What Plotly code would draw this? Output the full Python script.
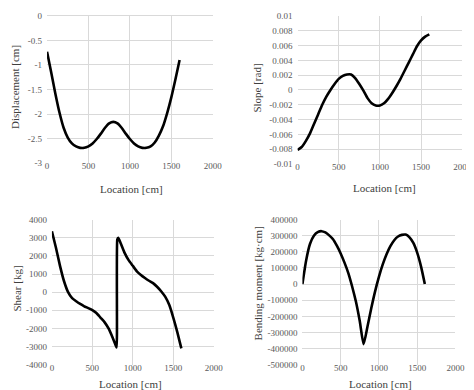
import plotly.graph_objects as go

# ---------------- data ----------------
loc = [0, 50, 100, 150, 200, 250, 300, 350, 400, 450, 500, 550, 600, 650, 700, 750, 800,
       850, 900, 950, 1000, 1050, 1100, 1150, 1200, 1250, 1300, 1350, 1400, 1450, 1500, 1550, 1600]

displacement = [-0.73, -1.15, -1.58, -1.97, -2.28, -2.48, -2.60, -2.66, -2.69, -2.69, -2.66, -2.60,
                -2.51, -2.40, -2.28, -2.19, -2.16, -2.19, -2.28, -2.40, -2.51, -2.60, -2.66, -2.69,
                -2.69, -2.66, -2.58, -2.44, -2.25, -1.98, -1.66, -1.29, -0.90]

slope = [-0.0081, -0.0077, -0.0069, -0.0059, -0.0046, -0.0033, -0.0020, -0.0009, 0.0000, 0.0008,
         0.0015, 0.0019, 0.0021, 0.0021, 0.0016, 0.0008, -0.0001, -0.0011, -0.0018, -0.0021,
         -0.0021, -0.0018, -0.0012, -0.0004, 0.0005, 0.0015, 0.0026, 0.0037, 0.0048, 0.0059,
         0.0067, 0.0072, 0.0075]

shear_loc = [0, 50, 100, 150, 200, 250, 300, 350, 400, 450, 500, 550, 600, 650, 700, 750, 790, 800,
             808, 820, 850, 900, 950, 1000, 1050, 1100, 1150, 1200, 1250, 1300, 1350, 1400, 1450,
             1500, 1550, 1600]
shear = [3350, 2450, 1450, 600, 0, -330, -500, -650, -780, -880, -990, -1150, -1400, -1650, -2000,
         -2500, -2950, -3050, 2900, 3000, 2700, 2150, 1750, 1450, 1150, 950, 780, 630, 500, 300, 50,
         -250, -700, -1400, -2200, -3100]

moment = [0, 150000, 250000, 300000, 322000, 328000, 320000, 302000, 278000, 238000, 190000,
          133000, 68000, -15000, -110000, -230000, -372000, -265000, -150000, -45000, 45000,
          122000, 185000, 235000, 272000, 295000, 305000, 307000, 290000, 255000, 195000,
          110000, 0]

x_ticks = [0, 500, 1000, 1500, 2000]
x_ticklabels = ["0", "500", "1000", "1500", "2000"]

disp_ticks = [0, -0.5, -1, -1.5, -2, -2.5, -3]
disp_ticklabels = ["0", "-0.5", "-1", "-1.5", "-2", "-2.5", "-3"]

slope_ticks = [0.01, 0.008, 0.006, 0.004, 0.002, 0, -0.002, -0.004, -0.006, -0.008, -0.01]
slope_ticklabels = ["0.01", "0.008", "0.006", "0.004", "0.002", "0", "-0.002", "-0.004",
                    "-0.006", "-0.008", "-0.01"]

shear_ticks = [4000, 3000, 2000, 1000, 0, -1000, -2000, -3000, -4000]
shear_ticklabels = ["4000", "3000", "2000", "1000", "0", "-1000", "-2000", "-3000", "-4000"]

moment_ticks = [400000, 300000, 200000, 100000, 0, -100000, -200000, -300000, -400000, -500000]
moment_ticklabels = ["400000", "300000", "200000", "100000", "0", "-100000", "-200000",
                     "-300000", "-400000", "-500000"]

x_title = "Location [cm]"
y_titles = ["Displacement [cm]", "Slope [rad]", "Shear [kg]", "Bending moment [kg·cm]"]

# ---------------- figure ----------------
W, H = 474, 390
FONT = "Liberation Serif, 'Times New Roman', Times, 'DejaVu Serif', serif"
GRID = "#d9d9d9"
TICKC = "#595959"

fig = go.Figure()
line = dict(color="black", width=2.6, shape="spline", smoothing=0.6)
fig.add_trace(go.Scatter(x=loc, y=displacement, mode="lines", line=line, xaxis="x", yaxis="y"))
fig.add_trace(go.Scatter(x=loc, y=slope, mode="lines", line=line, xaxis="x2", yaxis="y2"))
fig.add_trace(go.Scatter(x=shear_loc, y=shear, mode="lines", line=dict(line, smoothing=0.5),
                         xaxis="x3", yaxis="y3"))
fig.add_trace(go.Scatter(x=loc, y=moment, mode="lines", line=line, xaxis="x4", yaxis="y4"))

def px_x(p):
    return p / W

def px_y(p):
    return 1 - p / H

panels = [
    # (x0, x1, ytop, ybot) in pixels
    (38, 208, 3, 154),
    (295, 464, 3, 155),
    (43, 209, 212, 361),
    (300, 457, 212, 361),
]
yinfo = [
    (disp_ticks, disp_ticklabels, [-3, 0]),
    (slope_ticks, slope_ticklabels, [-0.01, 0.01]),
    (shear_ticks, shear_ticklabels, [-4000, 4000]),
    (moment_ticks, moment_ticklabels, [-500000, 400000]),
]

layout = dict(
    width=W, height=H, margin=dict(l=0, r=0, t=0, b=0),
    paper_bgcolor="white", plot_bgcolor="white", showlegend=False,
    font=dict(family=FONT, size=9, color=TICKC),
)
for i, ((x0, x1, yt, yb), (tv, tt, rng)) in enumerate(zip(panels, yinfo)):
    sfx = "" if i == 0 else str(i + 1)
    layout["xaxis" + sfx] = dict(
        domain=[px_x(x0), px_x(x1)], anchor="y" + sfx, range=[0, 2000],
        tickvals=x_ticks, ticktext=x_ticklabels, showgrid=True, gridcolor=GRID, gridwidth=1,
        zeroline=False, showline=False, ticks="", fixedrange=True, ticklabelstandoff=-4,
        tickfont=dict(family=FONT, size=9, color=TICKC),
    )
    layout["yaxis" + sfx] = dict(
        domain=[px_y(yb), px_y(yt)], anchor="x" + sfx, range=rng,
        tickvals=tv, ticktext=tt, showgrid=True, gridcolor=GRID, gridwidth=1,
        zeroline=True, zerolinecolor=GRID, zerolinewidth=1, showline=False, ticks="",
        fixedrange=True, ticklabelstandoff=4, tickfont=dict(family=FONT, size=9, color=TICKC),
    )

fig.update_layout(**layout)

# axis titles as annotations
xt_pos = [(125, 181), (384, 180), (124, 381), (380, 381)]
yt_pos = [(5, 76), (253, 77), (7, 283), (254, 278)]
for (xx, yy) in xt_pos:
    fig.add_annotation(x=px_x(xx), y=px_y(yy), xref="paper", yref="paper", text=x_title,
                       showarrow=False, font=dict(family=FONT, size=11, color="#404040"),
                       xanchor="center", yanchor="middle")
for (xx, yy), t in zip(yt_pos, y_titles):
    fig.add_annotation(x=px_x(xx), y=px_y(yy), xref="paper", yref="paper", text=t,
                       textangle=-90, showarrow=False,
                       font=dict(family=FONT, size=11, color="#404040"),
                       xanchor="center", yanchor="middle")

fig.write_html("out.html")
